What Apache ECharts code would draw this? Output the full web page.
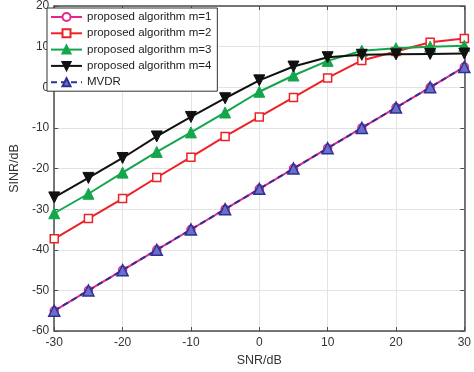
<!DOCTYPE html>
<html><head><meta charset="utf-8">
<script src="https://cdn.jsdelivr.net/npm/echarts@6/dist/echarts.min.js"></script>
<style>html,body{margin:0;padding:0;background:#fff}#c{width:474px;height:372px}</style>
</head><body><div id="c"></div>
<script>
const snr = [-30,-25,-20,-15,-10,-5,0,5,10,15,20,25,30];
const m1 = [-55,-50,-45,-40,-35,-30,-25,-20,-15,-10,-5,0,5];
const m2 = [-37.3,-32.3,-27.4,-22.2,-17.2,-12.1,-7.3,-2.5,2.3,6.6,8.8,11.1,12.0];
const m3 = [-31,-26.2,-21,-15.9,-11.1,-6.2,-1.1,2.9,6.5,9.0,9.6,10.0,10.2];
const m4 = [-27.1,-22.3,-17.4,-12.1,-7.3,-2.7,1.7,5.1,7.4,8.0,8.1,8.2,8.3];
const mvdr = [-55,-50,-45,-40,-35,-30,-25,-20,-15,-10,-5,0,5];
const names = ['proposed algorithm m=1','proposed algorithm m=2','proposed algorithm m=3','proposed algorithm m=4','MVDR'];
const xTicks = {min:-30,max:30,interval:10};
const yTicks = {min:-60,max:20,interval:10};

const pair = a => snr.map((x,i)=>[x,a[i]]);
const font = 'Liberation Sans, Arial, sans-serif';
const axisCol = '#4d4d4d';
const chart = echarts.init(document.getElementById('c'));
chart.setOption({
  animation:false,
  textStyle:{fontFamily:font},
  grid:{left:42,right:8,top:4,bottom:34},
  legend:{
    orient:'vertical',left:47,top:8,
    backgroundColor:'#fff',borderColor:'#333',borderWidth:1,borderRadius:0,
    padding:[3,6,3,3],itemWidth:31,itemHeight:10,itemGap:4.3,
    textStyle:{fontSize:11.5,color:'#222',fontFamily:font,lineHeight:12},
    data:names
  },
  xAxis:[{type:'value',min:xTicks.min,max:xTicks.max,interval:xTicks.interval,
    name:'SNR/dB',nameLocation:'middle',nameGap:20,
    nameTextStyle:{fontSize:12.5,color:'#333'},
    axisLine:{onZero:false,lineStyle:{color:axisCol,width:1.5}},
    axisTick:{inside:true,length:4,lineStyle:{color:axisCol}},
    axisLabel:{fontSize:12,color:'#333',margin:6},
    splitLine:{show:true,lineStyle:{color:'#e3e3e3',width:1}}},
   {type:'value',position:'top',min:xTicks.min,max:xTicks.max,interval:xTicks.interval,
    axisLine:{show:true,onZero:false,lineStyle:{color:axisCol,width:1.5}},
    axisTick:{inside:true,length:4,lineStyle:{color:axisCol}},
    axisLabel:{show:false},splitLine:{show:false}}],
  yAxis:[{type:'value',min:yTicks.min,max:yTicks.max,interval:yTicks.interval,
    name:'SINR/dB',nameLocation:'middle',nameGap:32,
    nameTextStyle:{fontSize:12.5,color:'#333'},
    axisLine:{show:true,onZero:false,lineStyle:{color:axisCol,width:1.5}},
    axisTick:{show:true,inside:true,length:4,lineStyle:{color:axisCol}},
    axisLabel:{fontSize:12,color:'#333',margin:5},
    splitLine:{show:true,lineStyle:{color:'#e3e3e3',width:1}}},
   {type:'value',position:'right',min:yTicks.min,max:yTicks.max,interval:yTicks.interval,
    axisLine:{show:true,onZero:false,lineStyle:{color:axisCol,width:1.5}},
    axisTick:{show:true,inside:true,length:4,lineStyle:{color:axisCol}},
    axisLabel:{show:false},splitLine:{show:false}}],
  series:[
    {name:names[0],type:'line',data:pair(m1),symbol:'circle',symbolSize:8,
     lineStyle:{color:'#e8248c',width:2},itemStyle:{color:'#fff',borderColor:'#e8248c',borderWidth:1.5},z:2},
    {name:names[1],type:'line',data:pair(m2),symbol:'rect',symbolSize:8,
     lineStyle:{color:'#ec2227',width:2},itemStyle:{color:'#fff',borderColor:'#ec2227',borderWidth:1.5},z:2},
    {name:names[2],type:'line',data:pair(m3),symbol:'triangle',symbolSize:11,
     lineStyle:{color:'#13a64b',width:2},itemStyle:{color:'#13a64b',borderColor:'#13a64b',borderWidth:1},z:3},
    {name:names[3],type:'line',data:pair(m4),symbol:'triangle',symbolRotate:180,symbolSize:11,
     lineStyle:{color:'#111',width:2},itemStyle:{color:'#111',borderColor:'#111',borderWidth:1},z:4},
    {name:names[4],type:'line',data:pair(mvdr),symbol:'triangle',symbolSize:11,
     lineStyle:{color:'#2e3192',width:2,type:[6,4]},itemStyle:{color:'#6a6fc8',borderColor:'#2e3192',borderWidth:1.5},z:5}
  ]
});
</script></body></html>
